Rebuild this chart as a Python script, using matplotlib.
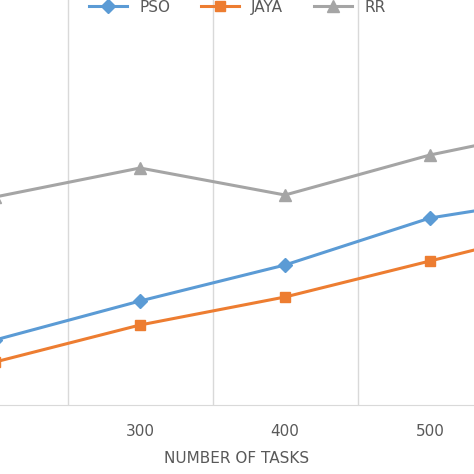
import matplotlib
matplotlib.use('Agg')
import matplotlib.pyplot as plt

tasks = ['200', '300', '400', '500', '600']
pso = [65, 104, 140, 187, 210]
jaya = [43, 80, 108, 144, 180]
rr = [208, 237, 210, 250, 280]

fig = plt.figure(figsize=(4.74, 4.74), dpi=100)
ax = fig.add_axes([0, 69 / 474, 1, 405 / 474])
x = range(len(tasks))
ax.plot(x, pso, color='#5B9BD5', lw=2.2, marker='D', ms=7, label='PSO')
ax.plot(x, jaya, color='#ED7D31', lw=2.2, marker='s', ms=7, label='JAYA')
ax.plot(x, rr, color='#A5A5A5', lw=2.2, marker='^', ms=8, label='RR')
for g in [0.5, 1.5, 2.5, 3.5]:
    ax.axvline(g, color='#D9D9D9', lw=1, zorder=0)
ax.set_xticks(list(x))
ax.set_xticklabels(tasks, fontsize=11, color='#595959')
ax.set_xlim(5 / 145, 479 / 145)
ax.set_ylim(0, 405)
ax.tick_params(axis='x', length=0, pad=14)
ax.set_yticks([])
for s in ['top', 'left', 'right']:
    ax.spines[s].set_visible(False)
ax.spines['bottom'].set_color('#D9D9D9')
ax.set_xlabel('NUMBER OF TASKS', fontsize=11, color='#595959', labelpad=8)
fig.legend(loc='upper center', bbox_to_anchor=(0.5, 1.03), ncol=3, frameon=False,
           fontsize=11, labelcolor='#595959', handlelength=2.5)
fig.savefig('out.png', dpi=100)
